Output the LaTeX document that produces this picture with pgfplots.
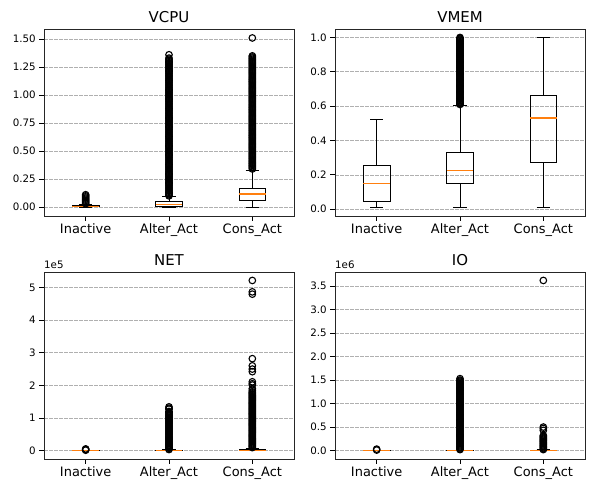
\documentclass[border=0pt]{standalone}
\usepackage{fontspec}
\setmainfont{DejaVu Sans}
\usepackage{pgfplots}
\pgfplotsset{compat=1.18}
\usepgfplotslibrary{statistics}
\definecolor{mplorange}{HTML}{FF7F0E}
\definecolor{gridgray}{HTML}{B0B0B0}

\pgfplotsset{
  mplbox/.style={
    scale only axis, width=250bp, height=187bp,
    anchor=south west,
    xmin=0.5, xmax=3.5, xtick={1,2,3},
    xticklabels={Inactive,Alter\_Act,Cons\_Act},
    tick pos=left, tick align=outside,
    major tick length=4.7bp,
    tick style={black, line width=0.8bp},
    axis line style={black!85, line width=0.9bp},
    ymajorgrids,
    major grid style={gridgray, line width=0.7bp, dash pattern=on 3.5bp off 1.5bp},
    /pgf/number format/assume math mode=true,
    xticklabel style={font=\fontsize{13}{15}\selectfont, inner sep=2.5bp},
    yticklabel style={font=\fontsize{10.3}{12}\selectfont, inner sep=3.5bp},
    every axis title/.style={at={(0.5,1)}, anchor=base, yshift=6bp,
      font=\fontsize{15}{18}\selectfont},
    clip=false,
    boxplot/draw direction=y,
    boxplot/box extend=0.32,
    boxplot/whisker extend=0.16,
    boxplot/every box/.style={draw=black, line width=1bp},
    boxplot/every whisker/.style={draw=black, line width=1bp},
    boxplot/every median/.style={draw=mplorange, line width=1.1bp},
  },
  bx/.style={black, mark=o, mark size=3.3bp, mark options={solid, line width=1.1bp, fill=none}},
}

\begin{document}
\begin{tikzpicture}
\useasboundingbox (0,0) rectangle (596bp,491bp);

% ---------------- VCPU
\begin{axis}[mplbox, at={(44bp,275bp)}, title=VCPU,
  ymin=-0.08, ymax=1.59, ytick={0,0.25,...,1.5},
  yticklabel style={/pgf/number format/.cd, fixed, fixed zerofill, precision=2}]
\addplot[bx, boxplot prepared={draw position=1, lower whisker=0, lower quartile=0.003,
  median=0.008, upper quartile=0.012, upper whisker=0.025}]
  coordinates {(1,0.03)(1,0.04)(1,0.05)(1,0.06)(1,0.07)(1,0.08)(1,0.09)(1,0.10)(1,0.11)};
\addplot[bx, boxplot prepared={draw position=2, lower whisker=0, lower quartile=0.008,
  median=0.025, upper quartile=0.045, upper whisker=0.09}]
  coordinates {
  (2,0.10)(2,0.11)(2,0.12)(2,0.13)(2,0.14)(2,0.15)(2,0.16)(2,0.17)(2,0.18)(2,0.19)
  (2,0.20)(2,0.21)(2,0.22)(2,0.23)(2,0.24)(2,0.25)(2,0.26)(2,0.27)(2,0.28)(2,0.29)
  (2,0.30)(2,0.31)(2,0.32)(2,0.33)(2,0.34)(2,0.35)(2,0.36)(2,0.37)(2,0.38)(2,0.39)
  (2,0.40)(2,0.41)(2,0.42)(2,0.43)(2,0.44)(2,0.45)(2,0.46)(2,0.47)(2,0.48)(2,0.49)
  (2,0.50)(2,0.51)(2,0.52)(2,0.53)(2,0.54)(2,0.55)(2,0.56)(2,0.57)(2,0.58)(2,0.59)
  (2,0.60)(2,0.61)(2,0.62)(2,0.63)(2,0.64)(2,0.65)(2,0.66)(2,0.67)(2,0.68)(2,0.69)
  (2,0.70)(2,0.71)(2,0.72)(2,0.73)(2,0.74)(2,0.75)(2,0.76)(2,0.77)(2,0.78)(2,0.79)
  (2,0.80)(2,0.81)(2,0.82)(2,0.83)(2,0.84)(2,0.85)(2,0.86)(2,0.87)(2,0.88)(2,0.89)
  (2,0.90)(2,0.91)(2,0.92)(2,0.93)(2,0.94)(2,0.95)(2,0.96)(2,0.97)(2,0.98)(2,0.99)
  (2,1.00)(2,1.01)(2,1.02)(2,1.03)(2,1.04)(2,1.05)(2,1.06)(2,1.07)(2,1.08)(2,1.09)
  (2,1.10)(2,1.11)(2,1.12)(2,1.13)(2,1.14)(2,1.15)(2,1.16)(2,1.17)(2,1.18)(2,1.19)
  (2,1.20)(2,1.21)(2,1.22)(2,1.23)(2,1.24)(2,1.25)(2,1.26)(2,1.27)(2,1.28)(2,1.29)
  (2,1.30)(2,1.31)(2,1.32)(2,1.33)(2,1.36)};
\addplot[bx, boxplot prepared={draw position=3, lower whisker=0, lower quartile=0.055,
  median=0.116, upper quartile=0.17, upper whisker=0.327}]
  coordinates {
  (3,0.34)(3,0.35)(3,0.36)(3,0.37)(3,0.38)(3,0.39)
  (3,0.40)(3,0.41)(3,0.42)(3,0.43)(3,0.44)(3,0.45)(3,0.46)(3,0.47)(3,0.48)(3,0.49)
  (3,0.50)(3,0.51)(3,0.52)(3,0.53)(3,0.54)(3,0.55)(3,0.56)(3,0.57)(3,0.58)(3,0.59)
  (3,0.60)(3,0.61)(3,0.62)(3,0.63)(3,0.64)(3,0.65)(3,0.66)(3,0.67)(3,0.68)(3,0.69)
  (3,0.70)(3,0.71)(3,0.72)(3,0.73)(3,0.74)(3,0.75)(3,0.76)(3,0.77)(3,0.78)(3,0.79)
  (3,0.80)(3,0.81)(3,0.82)(3,0.83)(3,0.84)(3,0.85)(3,0.86)(3,0.87)(3,0.88)(3,0.89)
  (3,0.90)(3,0.91)(3,0.92)(3,0.93)(3,0.94)(3,0.95)(3,0.96)(3,0.97)(3,0.98)(3,0.99)
  (3,1.00)(3,1.01)(3,1.02)(3,1.03)(3,1.04)(3,1.05)(3,1.06)(3,1.07)(3,1.08)(3,1.09)
  (3,1.10)(3,1.11)(3,1.12)(3,1.13)(3,1.14)(3,1.15)(3,1.16)(3,1.17)(3,1.18)(3,1.19)
  (3,1.20)(3,1.21)(3,1.22)(3,1.23)(3,1.24)(3,1.25)(3,1.26)(3,1.27)(3,1.28)(3,1.29)
  (3,1.30)(3,1.31)(3,1.32)(3,1.33)(3,1.34)(3,1.35)(3,1.51)};
\end{axis}

% ---------------- VMEM
\begin{axis}[mplbox, at={(335bp,275bp)}, title=VMEM,
  ymin=-0.0395, ymax=1.0495, ytick={0,0.2,...,1.0},
  yticklabel style={/pgf/number format/.cd, fixed, fixed zerofill, precision=1}]
\addplot[bx, boxplot prepared={draw position=1, lower whisker=0.012, lower quartile=0.043,
  median=0.15, upper quartile=0.253, upper whisker=0.52}]
  coordinates {};
\addplot[bx, boxplot prepared={draw position=2, lower whisker=0.012, lower quartile=0.15,
  median=0.225, upper quartile=0.333, upper whisker=0.603}]
  coordinates {
  (2,0.610)(2,0.615)(2,0.620)(2,0.625)(2,0.630)(2,0.635)(2,0.640)(2,0.645)
  (2,0.650)(2,0.655)(2,0.660)(2,0.665)(2,0.670)(2,0.675)(2,0.680)(2,0.685)
  (2,0.690)(2,0.695)(2,0.700)(2,0.705)(2,0.710)(2,0.715)(2,0.720)(2,0.725)
  (2,0.730)(2,0.735)(2,0.740)(2,0.745)(2,0.750)(2,0.755)(2,0.760)(2,0.765)
  (2,0.770)(2,0.775)(2,0.780)(2,0.785)(2,0.790)(2,0.795)(2,0.800)(2,0.805)
  (2,0.810)(2,0.815)(2,0.820)(2,0.825)(2,0.830)(2,0.835)(2,0.840)(2,0.845)
  (2,0.850)(2,0.855)(2,0.860)(2,0.865)(2,0.870)(2,0.875)(2,0.880)(2,0.885)
  (2,0.890)(2,0.895)(2,0.900)(2,0.905)(2,0.910)(2,0.915)(2,0.920)(2,0.925)
  (2,0.930)(2,0.935)(2,0.940)(2,0.945)(2,0.950)(2,0.955)(2,0.960)(2,0.965)
  (2,0.970)(2,0.975)(2,0.980)(2,0.985)(2,0.990)(2,0.995)(2,1.000)};
\addplot[bx, boxplot prepared={draw position=3, lower whisker=0.012, lower quartile=0.27,
  median=0.531, upper quartile=0.663, upper whisker=1.0}]
  coordinates {};
\end{axis}

% ---------------- NET
\begin{axis}[mplbox, at={(44bp,32bp)}, title=NET,
  ymin=-0.26, ymax=5.48, ytick={0,1,...,5}]
\node[anchor=base west, inner sep=0pt, font=\fontsize{10.3}{12}\selectfont]
  at (rel axis cs:0,1) [yshift=3bp] {1e5};
\addplot[bx, boxplot prepared={draw position=1, lower whisker=0, lower quartile=0,
  median=0.002, upper quartile=0.004, upper whisker=0.008}]
  coordinates {(1,0.01)(1,0.03)(1,0.05)};
\addplot[bx, boxplot prepared={draw position=2, lower whisker=0, lower quartile=0,
  median=0.003, upper quartile=0.008, upper whisker=0.02}]
  coordinates {
  (2,0.03)(2,0.06)(2,0.09)(2,0.12)(2,0.15)(2,0.18)(2,0.21)(2,0.24)(2,0.27)(2,0.30)
  (2,0.33)(2,0.36)(2,0.39)(2,0.42)(2,0.45)(2,0.48)(2,0.51)(2,0.54)(2,0.57)(2,0.60)
  (2,0.63)(2,0.66)(2,0.69)(2,0.72)(2,0.75)(2,0.78)(2,0.81)(2,0.84)(2,0.87)(2,0.90)
  (2,0.93)(2,0.96)(2,0.99)(2,1.02)(2,1.05)(2,1.08)(2,1.11)(2,1.14)(2,1.17)(2,1.20)
  (2,1.27)(2,1.30)(2,1.34)};
\addplot[bx, boxplot prepared={draw position=3, lower whisker=0, lower quartile=0.002,
  median=0.01, upper quartile=0.03, upper whisker=0.07}]
  coordinates {
  (3,0.09)(3,0.12)(3,0.15)(3,0.18)(3,0.21)(3,0.24)(3,0.27)(3,0.30)
  (3,0.33)(3,0.36)(3,0.39)(3,0.42)(3,0.45)(3,0.48)(3,0.51)(3,0.54)(3,0.57)(3,0.60)
  (3,0.63)(3,0.66)(3,0.69)(3,0.72)(3,0.75)(3,0.78)(3,0.81)(3,0.84)(3,0.87)(3,0.90)
  (3,0.93)(3,0.96)(3,0.99)(3,1.02)(3,1.05)(3,1.08)(3,1.11)(3,1.14)(3,1.17)(3,1.20)
  (3,1.23)(3,1.26)(3,1.29)(3,1.32)(3,1.35)(3,1.38)(3,1.41)(3,1.44)(3,1.47)(3,1.50)
  (3,1.53)(3,1.56)(3,1.59)(3,1.62)(3,1.65)(3,1.68)(3,1.71)(3,1.74)(3,1.77)(3,1.80)
  (3,1.85)(3,1.90)(3,2.01)(3,2.05)(3,2.11)(3,2.42)(3,2.50)(3,2.60)(3,2.82)
  (3,4.80)(3,4.87)(3,5.22)};
\end{axis}

% ---------------- IO
\begin{axis}[mplbox, at={(335bp,32bp)}, title=IO,
  ymin=-0.18, ymax=3.80, ytick={0,0.5,...,3.5},
  yticklabel style={/pgf/number format/.cd, fixed, fixed zerofill, precision=1}]
\node[anchor=base west, inner sep=0pt, font=\fontsize{10.3}{12}\selectfont]
  at (rel axis cs:0,1) [yshift=3bp] {1e6};
\addplot[bx, boxplot prepared={draw position=1, lower whisker=0, lower quartile=0,
  median=0.001, upper quartile=0.002, upper whisker=0.004}]
  coordinates {(1,0.01)(1,0.03)};
\addplot[bx, boxplot prepared={draw position=2, lower whisker=0, lower quartile=0,
  median=0.002, upper quartile=0.005, upper whisker=0.01}]
  coordinates {
  (2,0.02)(2,0.04)(2,0.06)(2,0.08)(2,0.10)(2,0.12)(2,0.14)(2,0.16)(2,0.18)(2,0.20)
  (2,0.22)(2,0.24)(2,0.26)(2,0.28)(2,0.30)(2,0.32)(2,0.34)(2,0.36)(2,0.38)(2,0.40)
  (2,0.42)(2,0.44)(2,0.46)(2,0.48)(2,0.50)(2,0.52)(2,0.54)(2,0.56)(2,0.58)(2,0.60)
  (2,0.62)(2,0.64)(2,0.66)(2,0.68)(2,0.70)(2,0.72)(2,0.74)(2,0.76)(2,0.78)(2,0.80)
  (2,0.82)(2,0.84)(2,0.86)(2,0.88)(2,0.90)(2,0.92)(2,0.94)(2,0.96)(2,0.98)(2,1.00)
  (2,1.02)(2,1.04)(2,1.06)(2,1.08)(2,1.10)(2,1.12)(2,1.14)(2,1.16)(2,1.18)(2,1.20)
  (2,1.22)(2,1.24)(2,1.26)(2,1.28)(2,1.30)(2,1.32)(2,1.34)(2,1.36)(2,1.38)(2,1.40)
  (2,1.42)(2,1.44)(2,1.46)(2,1.48)(2,1.50)(2,1.53)};
\addplot[bx, boxplot prepared={draw position=3, lower whisker=0, lower quartile=0,
  median=0.003, upper quartile=0.008, upper whisker=0.015}]
  coordinates {
  (3,0.02)(3,0.04)(3,0.06)(3,0.08)(3,0.10)(3,0.12)(3,0.14)(3,0.16)(3,0.18)(3,0.20)
  (3,0.22)(3,0.24)(3,0.26)(3,0.28)(3,0.30)(3,0.32)(3,0.43)(3,0.47)(3,0.50)(3,3.62)};
\end{axis}
\end{tikzpicture}
\end{document}
